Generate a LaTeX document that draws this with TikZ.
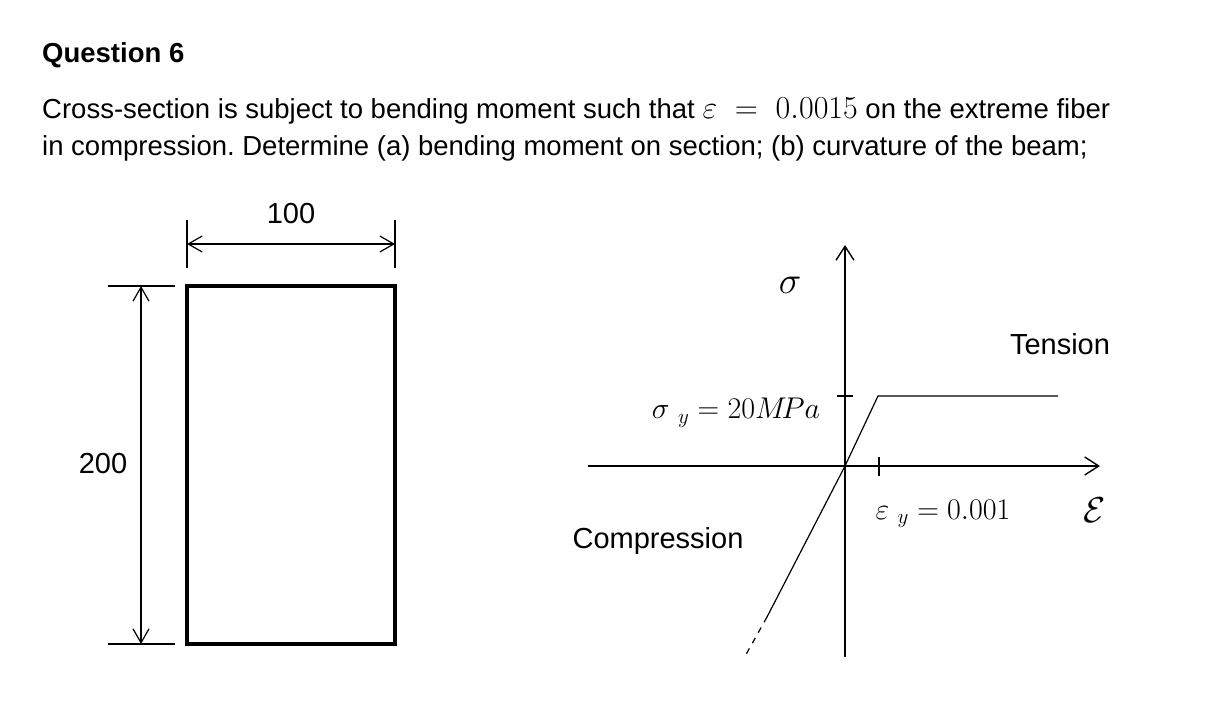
\RequirePackage{fix-cm}
\documentclass[tikz,border=0pt]{standalone}
\usepackage{fontspec}
\setmainfont{Liberation Sans}
\usetikzlibrary{arrows.meta}
\frenchspacing
\begin{document}
\begin{tikzpicture}[x=1pt,y=-1pt,
  txt/.style={font=\fontsize{27.5}{33}\selectfont, inner sep=0pt},
  lbl/.style={font=\fontsize{29}{34}\selectfont, inner sep=0pt},
  mth/.style={font=\fontsize{30}{34}\selectfont, inner sep=0pt},
  thin1/.style={line width=1.2pt},
  dimarrow/.style={line width=1.2pt, {Straight Barb[length=14pt,width=16pt]}-{Straight Barb[length=14pt,width=16pt]}},
  axarrow/.style={line width=1.4pt, -{Straight Barb[length=14pt,width=18pt]}}]
\useasboundingbox (0,0) rectangle (1210,722);
\fill[white] (0,0) rectangle (1210,722);
\node[txt, anchor=west, font=\bfseries\fontsize{27.5}{33}\selectfont] (q) at (42,55) {Question 6};
\node[txt, anchor=west] (l1) at (42,111) {Cross-section is subject to bending moment such that {\fontsize{32}{34}\selectfont$\varepsilon\;=\;0.0015$} on the extreme fiber};
\node[txt, anchor=west] (l2) at (42,148) {in compression. Determine (a) bending moment on section; (b) curvature of the beam;};
% rectangle
\node[draw, line width=3.5pt, minimum width=208pt, minimum height=358pt, inner sep=0pt] (sec) at (291,465) {};
% top dimension
\coordinate (ta) at (187,220); \coordinate (tb) at (187,268);
\coordinate (tc) at (395,220); \coordinate (td) at (395,268);
\draw[thin1] (ta) -- (tb); \draw[thin1] (tc) -- (td);
\coordinate (d1) at (187,244); \coordinate (d2) at (395,244);
\draw[dimarrow] (d1) -- (d2);
\node[lbl] (w) at (291,214) {100};
% left dimension
\coordinate (la) at (108,286); \coordinate (lb) at (175,286);
\coordinate (lc) at (108,644); \coordinate (ld) at (175,644);
\draw[thin1] (la) -- (lb); \draw[thin1] (lc) -- (ld);
\coordinate (v1) at (141,286); \coordinate (v2) at (141,644);
\draw[dimarrow] (v1) -- (v2);
\node[lbl] (h) at (103,464) {200};
% axes
\coordinate (xs) at (588,466); \coordinate (xe) at (1100,466);
\coordinate (ys) at (845,657); \coordinate (ye) at (845,245);
\draw[axarrow] (xs) -- (xe);
\draw[axarrow] (ys) -- (ye);
\coordinate (o) at (845,466);
\coordinate (yp) at (878,396);
\coordinate (pe) at (1058,396);
\coordinate (cm) at (767,617);
\coordinate (ce) at (744,658);
\draw[thin1] (o) -- (yp) -- (pe);
\draw[thin1] (o) -- (cm);
\draw[thin1, dash pattern=on 6pt off 6pt] (cm) -- (ce);
\coordinate (t1) at (837,396); \coordinate (t2) at (853,396);
\draw[thin1] (t1) -- (t2);
\coordinate (t3) at (879,457); \coordinate (t4) at (879,476);
\draw[thin1] (t3) -- (t4);
% labels
\node[mth, font=\fontsize{38}{42}\selectfont] (sig) at (790,285) {$\sigma$};
\node[lbl] (ten) at (1060,344) {Tension};
\node[mth] (sy) at (736,413) {$\sigma\ {}_{y}=20M\!Pa$};
\node[mth] (ey) at (943,514) {$\varepsilon\ {}_{y}=0.001$};
\node[mth, font=\fontsize{36}{40}\selectfont] (eps) at (1095,510) {$\mathcal{E}$};
\node[lbl] (comp) at (658,541) {Compression};
\end{tikzpicture}
\end{document}
